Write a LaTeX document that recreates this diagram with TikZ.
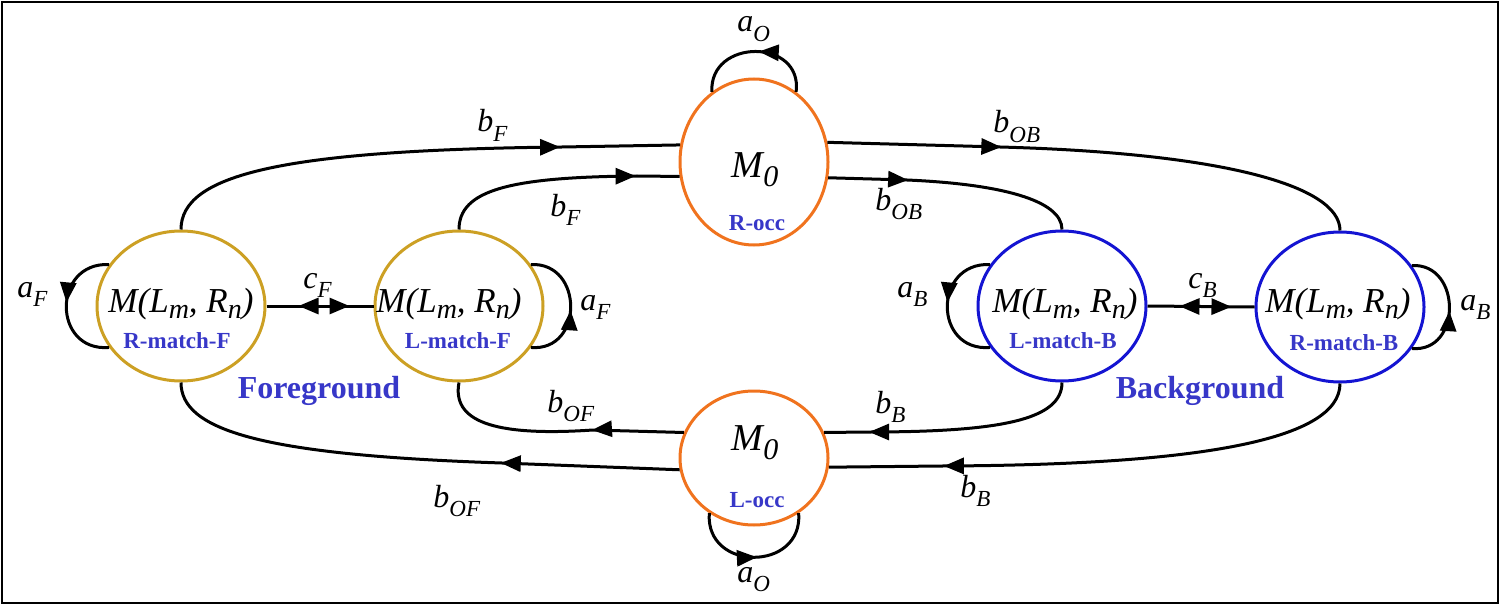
\documentclass[tikz,border=0pt]{standalone}
\usepackage{fontspec}
\setmainfont{Liberation Serif}
\usetikzlibrary{arrows.meta, shapes.geometric, decorations.markings}

\definecolor{occorange}{RGB}{240,115,30}
\definecolor{fggold}{RGB}{204,160,36}
\definecolor{bgblue}{RGB}{20,20,210}
\definecolor{tagblue}{RGB}{55,55,200}

% italic label with a lowered subscript
\newcommand{\elab}[2]{{\fontsize{16}{18}\selectfont\itshape #1\raisebox{-0.3em}{\fontsize{11.5}{12}\selectfont #2}}}
\newcommand{\mstate}{{\fontsize{17.5}{20}\selectfont\itshape M(L\raisebox{-0.18em}{\fontsize{14}{14}\selectfont m}, R\raisebox{-0.18em}{\fontsize{14}{14}\selectfont n})}}
\newcommand{\mzero}{{\fontsize{19}{20}\selectfont\itshape M\raisebox{-0.25em}{\fontsize{15}{15}\selectfont 0}}}

\begin{document}
\begin{tikzpicture}[x=0.5pt, y=-0.5pt,
  state/.style={ellipse, draw, line width=1.5pt, inner sep=0pt},
  fgstate/.style={state, draw=fggold, minimum width=84pt, minimum height=75pt},
  bgstate/.style={state, draw=bgblue, minimum width=84pt, minimum height=75pt},
  occstate/.style={state, draw=occorange, minimum width=74pt},
  tagtext/.style={font=\fontsize{11.5}{12}\selectfont\bfseries, text=tagblue, anchor=base},
  areatext/.style={font=\fontsize{16}{18}\selectfont\bfseries, text=tagblue, anchor=base},
  edge/.style={line width=1.5pt},
  tipat/.style={edge, postaction={decorate}, decoration={markings,
    mark=at position #1 with {\arrow{Triangle[length=10pt,width=8pt]}}}},
  twotips/.style 2 args={edge, postaction={decorate}, decoration={markings,
    mark=at position #1 with {\arrowreversed{Triangle[length=10pt,width=8pt]}},
    mark=at position #2 with {\arrow{Triangle[length=10pt,width=8pt]}}}},
  lbl/.style={anchor=base west, inner sep=0pt}
]

  \useasboundingbox (0,0) rectangle (1505,610);
  \draw[line width=0.75pt] (2,2) rectangle (1498,603);

  % states
  \node[occstate, minimum height=83pt] (rocc) at (754,162) {};
  \node[occstate, minimum height=67pt] (locc) at (754,458) {};
  \node[fgstate] (rmf) at (181,306) {};
  \node[fgstate] (lmf) at (459,306) {};
  \node[bgstate] (lmb) at (1062,306) {};
  \node[bgstate] (rmb) at (1340,307) {};

  \node[anchor=base] (rocc-m) at (755,177) {\mzero};
  \node[tagtext] (rocc-tag) at (757,230) {R-occ};
  \node[anchor=base] (locc-m) at (755,450) {\mzero};
  \node[tagtext] (locc-tag) at (757,507) {L-occ};
  \node[anchor=base] (rmf-m) at (181,312) {\mstate};
  \node[tagtext] (rmf-tag) at (177,348) {R-match-F};
  \node[anchor=base] (lmf-m) at (449,312) {\mstate};
  \node[tagtext] (lmf-tag) at (458,348) {L-match-F};
  \node[anchor=base] (lmb-m) at (1065,312) {\mstate};
  \node[tagtext] (lmb-tag) at (1063,348) {L-match-B};
  \node[anchor=base] (rmb-m) at (1338,312) {\mstate};
  \node[tagtext] (rmb-tag) at (1344,350) {R-match-B};

  \node[areatext] (fg) at (319,398) {Foreground};
  \node[areatext] (bg) at (1200,398) {Background};

  % transitions between the groups
  \draw[tipat=-60pt] (rmf.north) .. controls (181,175) and (280,150) .. (562,147) -- (rocc.167);
  \draw[tipat=-22pt] (lmf.north) .. controls (459,190) and (510,177) .. (637,176) -- (rocc.191);
  \draw[tipat=87pt] (rocc.15) -- (1000,147) .. controls (1220,153) and (1340,185) .. (rmb.north);
  \draw[tipat=40pt] (rocc.-12) -- (907,180) .. controls (1000,184) and (1062,200) .. (lmb.north);
  \draw[tipat=46pt] (locc.160) -- (593,430) .. controls (490,437) and (452,420) .. (lmf.south);
  \draw[tipat=89.5pt] (locc.189) -- (502,463) .. controls (260,455) and (181,430) .. (rmf.south);
  \draw[tipat=-22.5pt] (lmb.south) .. controls (1062,420) and (1000,432) .. (868,432) -- (locc.20);
  \draw[tipat=-57.5pt] (rmb.south) .. controls (1340,440) and (1200,465) .. (942,466) -- (locc.-7);

  \node[lbl] (bf-out) at (477,132) {\elab{b}{F}};
  \node[lbl] (bf-in) at (550,216) {\elab{b}{F}};
  \node[lbl] (bob-out) at (993,133) {\elab{b}{OB}};
  \node[lbl] (bob-in) at (875,210) {\elab{b}{OB}};
  \node[lbl] (bof-in) at (547,412) {\elab{b}{OF}};
  \node[lbl] (bof-out) at (433,507) {\elab{b}{OF}};
  \node[lbl] (bb-in) at (875,413) {\elab{b}{B}};
  \node[lbl] (bb-out) at (960,497) {\elab{b}{B}};

  % self loops
  \draw[tipat=0.47] (rocc.59) .. controls (803,38) and (709,38) .. (rocc.121);
  \draw[tipat=0.52] (locc.231) .. controls (705,572) and (803,572) .. (locc.309);
  \draw[tipat=0.47] (rmf.150) .. controls (52,262) and (52,352) .. (rmf.210);
  \draw[tipat=0.47] (lmf.-30) .. controls (584,352) and (584,262) .. (lmf.30);
  \draw[tipat=0.47] (lmb.150) .. controls (933,262) and (933,352) .. (lmb.210);
  \draw[tipat=0.47] (rmb.-30) .. controls (1462,353) and (1462,263) .. (rmb.30);

  \node[lbl] (ao-top) at (737,32) {\elab{a}{O}};
  \node[lbl] (ao-bot) at (737,582) {\elab{a}{O}};
  \node[lbl] (af-left) at (17,297) {\elab{a}{F}};
  \node[lbl] (af-right) at (580,310) {\elab{a}{F}};
  \node[lbl] (ab-left) at (897,297) {\elab{a}{B}};
  \node[lbl] (ab-right) at (1460,310) {\elab{a}{B}};

  % match swaps
  \draw[twotips={16pt}{41.5pt}] (rmf.east) -- (lmf.west);
  \draw[twotips={16pt}{42pt}] (lmb.east) -- (rmb.west);
  \node[lbl] (cf) at (303,288) {\elab{c}{F}};
  \node[lbl] (cb) at (1188,288) {\elab{c}{B}};

\end{tikzpicture}
\end{document}
